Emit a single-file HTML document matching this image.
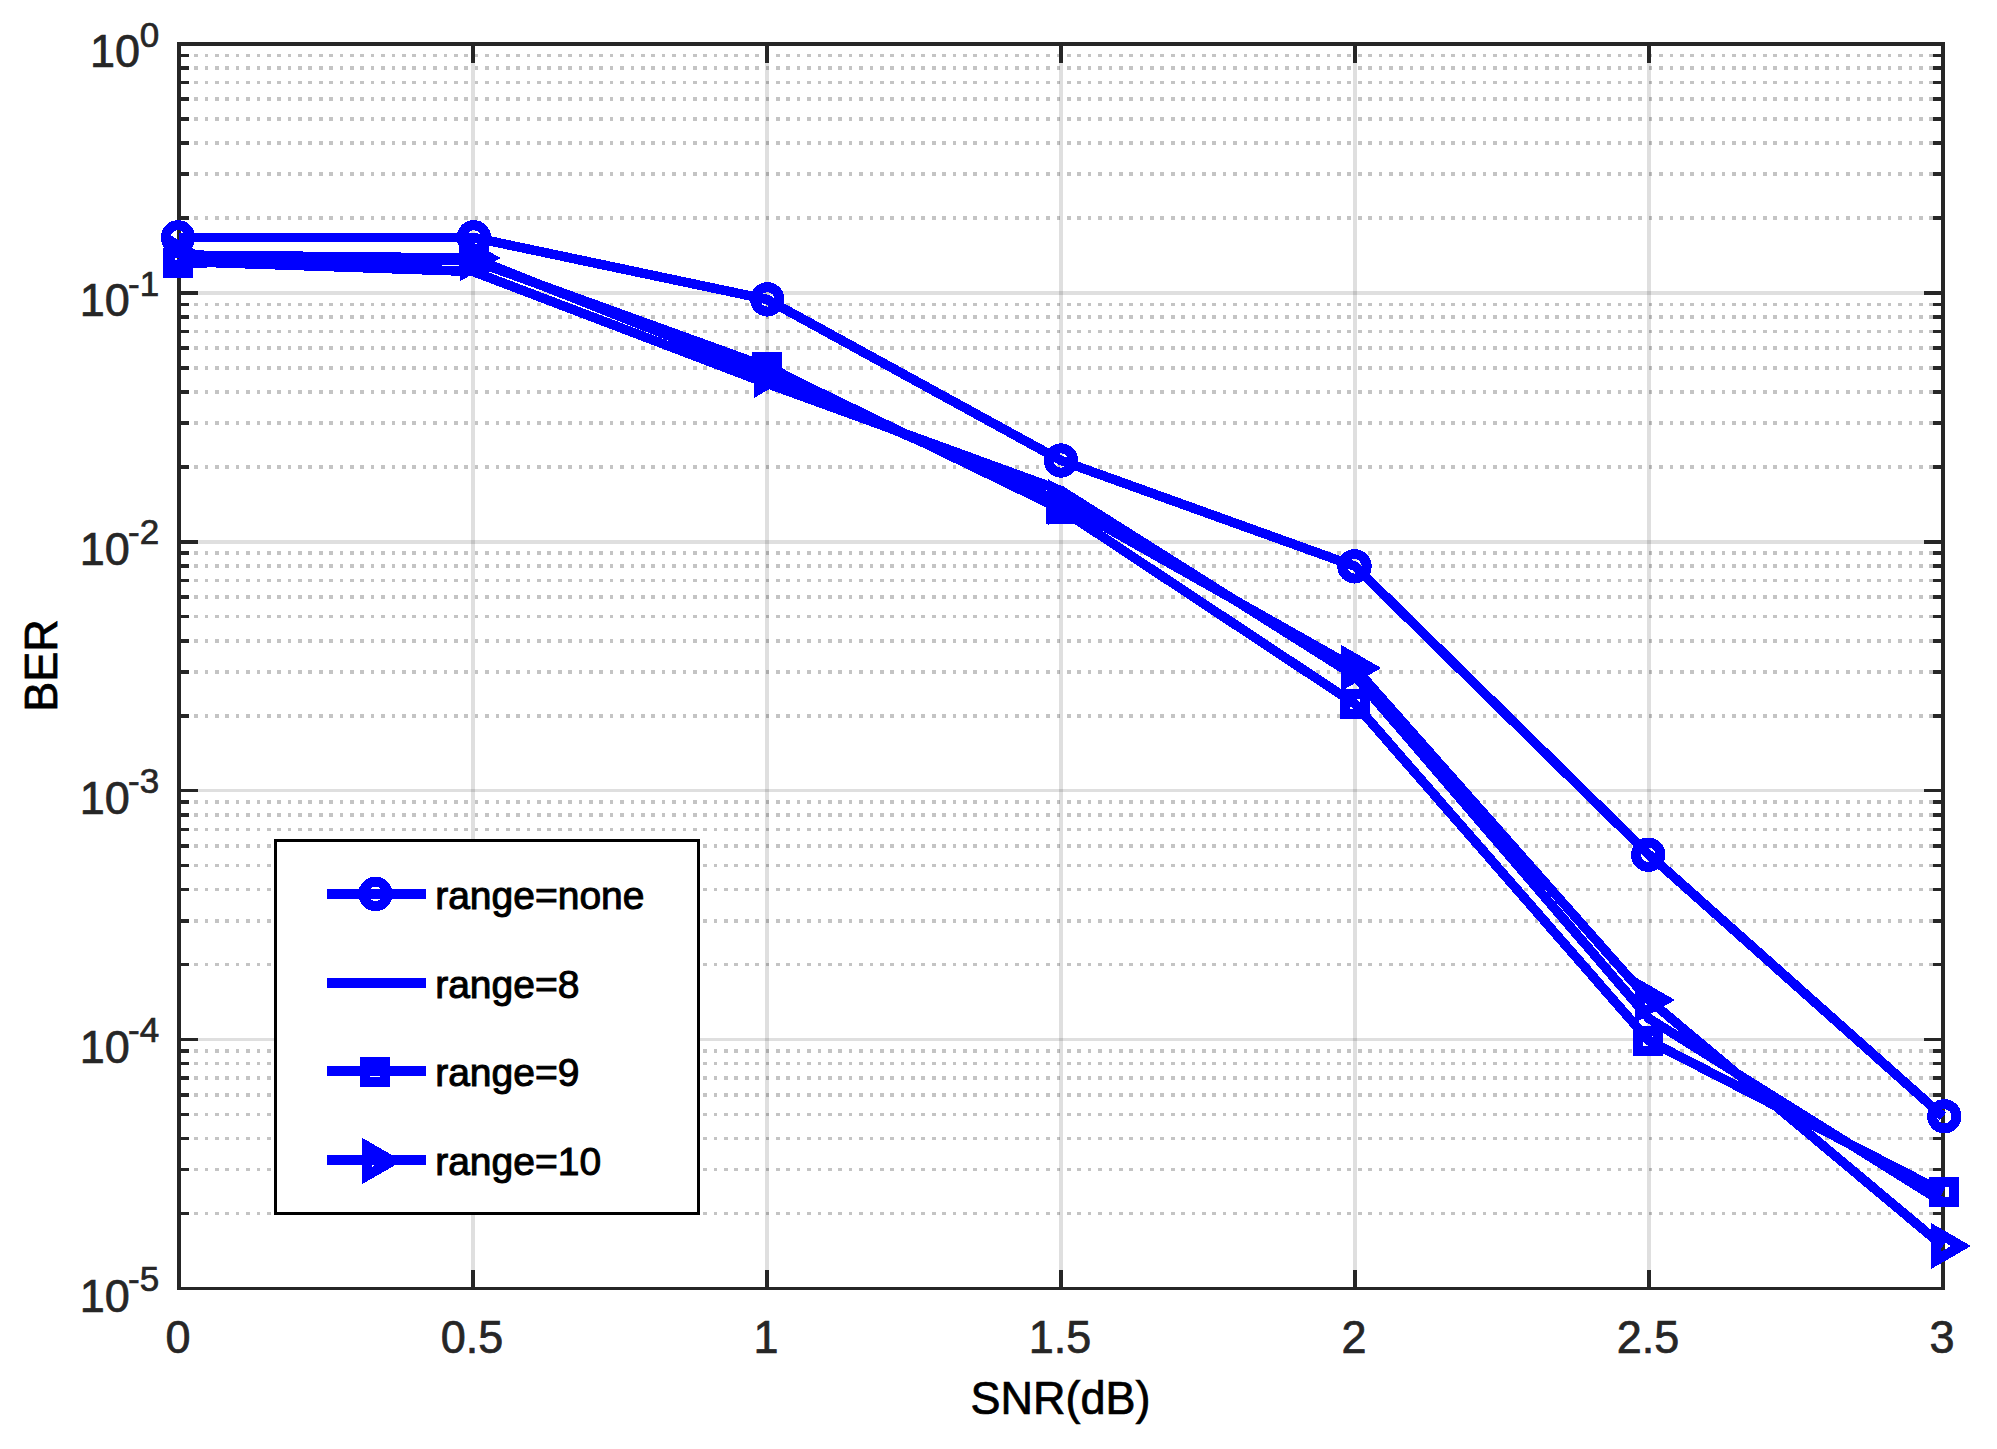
<!DOCTYPE html>
<html lang="en"><head><meta charset="utf-8"><title>BER vs SNR</title>
<style>html,body{margin:0;padding:0;background:#fff}body{width:1997px;height:1449px;overflow:hidden}svg{display:block;position:absolute;left:0;top:0}text{font-family:"Liberation Sans",sans-serif}.t{fill:#262626}.k{fill:#000}</style>
</head><body>
<svg width="1997" height="1449" viewBox="0 0 1997 1449">
<rect x="0" y="0" width="1997" height="1449" fill="#fff"/>
<g shape-rendering="crispEdges" fill="none">
<g stroke="#c4c4c4" stroke-width="3.50" stroke-dasharray="3.65 6.74" stroke-dashoffset="5.58">
<line x1="179.0" y1="218.0" x2="1943.0" y2="218.0"/>
<line x1="179.0" y1="174.1" x2="1943.0" y2="174.1"/>
<line x1="179.0" y1="143.0" x2="1943.0" y2="143.0"/>
<line x1="179.0" y1="118.9" x2="1943.0" y2="118.9"/>
<line x1="179.0" y1="99.2" x2="1943.0" y2="99.2"/>
<line x1="179.0" y1="82.6" x2="1943.0" y2="82.6"/>
<line x1="179.0" y1="68.1" x2="1943.0" y2="68.1"/>
<line x1="179.0" y1="55.4" x2="1943.0" y2="55.4"/>
<line x1="179.0" y1="466.9" x2="1943.0" y2="466.9"/>
<line x1="179.0" y1="423.0" x2="1943.0" y2="423.0"/>
<line x1="179.0" y1="391.9" x2="1943.0" y2="391.9"/>
<line x1="179.0" y1="367.8" x2="1943.0" y2="367.8"/>
<line x1="179.0" y1="348.1" x2="1943.0" y2="348.1"/>
<line x1="179.0" y1="331.5" x2="1943.0" y2="331.5"/>
<line x1="179.0" y1="317.0" x2="1943.0" y2="317.0"/>
<line x1="179.0" y1="304.3" x2="1943.0" y2="304.3"/>
<line x1="179.0" y1="715.8" x2="1943.0" y2="715.8"/>
<line x1="179.0" y1="671.9" x2="1943.0" y2="671.9"/>
<line x1="179.0" y1="640.8" x2="1943.0" y2="640.8"/>
<line x1="179.0" y1="616.7" x2="1943.0" y2="616.7"/>
<line x1="179.0" y1="597.0" x2="1943.0" y2="597.0"/>
<line x1="179.0" y1="580.4" x2="1943.0" y2="580.4"/>
<line x1="179.0" y1="565.9" x2="1943.0" y2="565.9"/>
<line x1="179.0" y1="553.2" x2="1943.0" y2="553.2"/>
<line x1="179.0" y1="964.7" x2="1943.0" y2="964.7"/>
<line x1="179.0" y1="920.8" x2="1943.0" y2="920.8"/>
<line x1="179.0" y1="889.7" x2="1943.0" y2="889.7"/>
<line x1="179.0" y1="865.6" x2="1943.0" y2="865.6"/>
<line x1="179.0" y1="845.9" x2="1943.0" y2="845.9"/>
<line x1="179.0" y1="829.3" x2="1943.0" y2="829.3"/>
<line x1="179.0" y1="814.8" x2="1943.0" y2="814.8"/>
<line x1="179.0" y1="802.1" x2="1943.0" y2="802.1"/>
<line x1="179.0" y1="1213.6" x2="1943.0" y2="1213.6"/>
<line x1="179.0" y1="1169.7" x2="1943.0" y2="1169.7"/>
<line x1="179.0" y1="1138.6" x2="1943.0" y2="1138.6"/>
<line x1="179.0" y1="1114.5" x2="1943.0" y2="1114.5"/>
<line x1="179.0" y1="1094.8" x2="1943.0" y2="1094.8"/>
<line x1="179.0" y1="1078.2" x2="1943.0" y2="1078.2"/>
<line x1="179.0" y1="1063.7" x2="1943.0" y2="1063.7"/>
<line x1="179.0" y1="1051.0" x2="1943.0" y2="1051.0"/>
</g>
<g stroke="#262626" stroke-opacity="0.15" stroke-width="3.5">
<line x1="473.0" y1="44.0" x2="473.0" y2="1288.5"/>
<line x1="767.0" y1="44.0" x2="767.0" y2="1288.5"/>
<line x1="1061.0" y1="44.0" x2="1061.0" y2="1288.5"/>
<line x1="1355.0" y1="44.0" x2="1355.0" y2="1288.5"/>
<line x1="1649.0" y1="44.0" x2="1649.0" y2="1288.5"/>
<line x1="179.0" y1="292.9" x2="1943.0" y2="292.9"/>
<line x1="179.0" y1="541.8" x2="1943.0" y2="541.8"/>
<line x1="179.0" y1="790.7" x2="1943.0" y2="790.7"/>
<line x1="179.0" y1="1039.6" x2="1943.0" y2="1039.6"/>
</g>
<g stroke="#262626" stroke-width="3.5">
<line x1="179.0" y1="218.0" x2="189.0" y2="218.0"/>
<line x1="1943.0" y1="218.0" x2="1933.0" y2="218.0"/>
<line x1="179.0" y1="174.1" x2="189.0" y2="174.1"/>
<line x1="1943.0" y1="174.1" x2="1933.0" y2="174.1"/>
<line x1="179.0" y1="143.0" x2="189.0" y2="143.0"/>
<line x1="1943.0" y1="143.0" x2="1933.0" y2="143.0"/>
<line x1="179.0" y1="118.9" x2="189.0" y2="118.9"/>
<line x1="1943.0" y1="118.9" x2="1933.0" y2="118.9"/>
<line x1="179.0" y1="99.2" x2="189.0" y2="99.2"/>
<line x1="1943.0" y1="99.2" x2="1933.0" y2="99.2"/>
<line x1="179.0" y1="82.6" x2="189.0" y2="82.6"/>
<line x1="1943.0" y1="82.6" x2="1933.0" y2="82.6"/>
<line x1="179.0" y1="68.1" x2="189.0" y2="68.1"/>
<line x1="1943.0" y1="68.1" x2="1933.0" y2="68.1"/>
<line x1="179.0" y1="55.4" x2="189.0" y2="55.4"/>
<line x1="1943.0" y1="55.4" x2="1933.0" y2="55.4"/>
<line x1="179.0" y1="466.9" x2="189.0" y2="466.9"/>
<line x1="1943.0" y1="466.9" x2="1933.0" y2="466.9"/>
<line x1="179.0" y1="423.0" x2="189.0" y2="423.0"/>
<line x1="1943.0" y1="423.0" x2="1933.0" y2="423.0"/>
<line x1="179.0" y1="391.9" x2="189.0" y2="391.9"/>
<line x1="1943.0" y1="391.9" x2="1933.0" y2="391.9"/>
<line x1="179.0" y1="367.8" x2="189.0" y2="367.8"/>
<line x1="1943.0" y1="367.8" x2="1933.0" y2="367.8"/>
<line x1="179.0" y1="348.1" x2="189.0" y2="348.1"/>
<line x1="1943.0" y1="348.1" x2="1933.0" y2="348.1"/>
<line x1="179.0" y1="331.5" x2="189.0" y2="331.5"/>
<line x1="1943.0" y1="331.5" x2="1933.0" y2="331.5"/>
<line x1="179.0" y1="317.0" x2="189.0" y2="317.0"/>
<line x1="1943.0" y1="317.0" x2="1933.0" y2="317.0"/>
<line x1="179.0" y1="304.3" x2="189.0" y2="304.3"/>
<line x1="1943.0" y1="304.3" x2="1933.0" y2="304.3"/>
<line x1="179.0" y1="715.8" x2="189.0" y2="715.8"/>
<line x1="1943.0" y1="715.8" x2="1933.0" y2="715.8"/>
<line x1="179.0" y1="671.9" x2="189.0" y2="671.9"/>
<line x1="1943.0" y1="671.9" x2="1933.0" y2="671.9"/>
<line x1="179.0" y1="640.8" x2="189.0" y2="640.8"/>
<line x1="1943.0" y1="640.8" x2="1933.0" y2="640.8"/>
<line x1="179.0" y1="616.7" x2="189.0" y2="616.7"/>
<line x1="1943.0" y1="616.7" x2="1933.0" y2="616.7"/>
<line x1="179.0" y1="597.0" x2="189.0" y2="597.0"/>
<line x1="1943.0" y1="597.0" x2="1933.0" y2="597.0"/>
<line x1="179.0" y1="580.4" x2="189.0" y2="580.4"/>
<line x1="1943.0" y1="580.4" x2="1933.0" y2="580.4"/>
<line x1="179.0" y1="565.9" x2="189.0" y2="565.9"/>
<line x1="1943.0" y1="565.9" x2="1933.0" y2="565.9"/>
<line x1="179.0" y1="553.2" x2="189.0" y2="553.2"/>
<line x1="1943.0" y1="553.2" x2="1933.0" y2="553.2"/>
<line x1="179.0" y1="964.7" x2="189.0" y2="964.7"/>
<line x1="1943.0" y1="964.7" x2="1933.0" y2="964.7"/>
<line x1="179.0" y1="920.8" x2="189.0" y2="920.8"/>
<line x1="1943.0" y1="920.8" x2="1933.0" y2="920.8"/>
<line x1="179.0" y1="889.7" x2="189.0" y2="889.7"/>
<line x1="1943.0" y1="889.7" x2="1933.0" y2="889.7"/>
<line x1="179.0" y1="865.6" x2="189.0" y2="865.6"/>
<line x1="1943.0" y1="865.6" x2="1933.0" y2="865.6"/>
<line x1="179.0" y1="845.9" x2="189.0" y2="845.9"/>
<line x1="1943.0" y1="845.9" x2="1933.0" y2="845.9"/>
<line x1="179.0" y1="829.3" x2="189.0" y2="829.3"/>
<line x1="1943.0" y1="829.3" x2="1933.0" y2="829.3"/>
<line x1="179.0" y1="814.8" x2="189.0" y2="814.8"/>
<line x1="1943.0" y1="814.8" x2="1933.0" y2="814.8"/>
<line x1="179.0" y1="802.1" x2="189.0" y2="802.1"/>
<line x1="1943.0" y1="802.1" x2="1933.0" y2="802.1"/>
<line x1="179.0" y1="1213.6" x2="189.0" y2="1213.6"/>
<line x1="1943.0" y1="1213.6" x2="1933.0" y2="1213.6"/>
<line x1="179.0" y1="1169.7" x2="189.0" y2="1169.7"/>
<line x1="1943.0" y1="1169.7" x2="1933.0" y2="1169.7"/>
<line x1="179.0" y1="1138.6" x2="189.0" y2="1138.6"/>
<line x1="1943.0" y1="1138.6" x2="1933.0" y2="1138.6"/>
<line x1="179.0" y1="1114.5" x2="189.0" y2="1114.5"/>
<line x1="1943.0" y1="1114.5" x2="1933.0" y2="1114.5"/>
<line x1="179.0" y1="1094.8" x2="189.0" y2="1094.8"/>
<line x1="1943.0" y1="1094.8" x2="1933.0" y2="1094.8"/>
<line x1="179.0" y1="1078.2" x2="189.0" y2="1078.2"/>
<line x1="1943.0" y1="1078.2" x2="1933.0" y2="1078.2"/>
<line x1="179.0" y1="1063.7" x2="189.0" y2="1063.7"/>
<line x1="1943.0" y1="1063.7" x2="1933.0" y2="1063.7"/>
<line x1="179.0" y1="1051.0" x2="189.0" y2="1051.0"/>
<line x1="1943.0" y1="1051.0" x2="1933.0" y2="1051.0"/>
<line x1="179.0" y1="292.9" x2="198.0" y2="292.9"/>
<line x1="1943.0" y1="292.9" x2="1924.0" y2="292.9"/>
<line x1="179.0" y1="541.8" x2="198.0" y2="541.8"/>
<line x1="1943.0" y1="541.8" x2="1924.0" y2="541.8"/>
<line x1="179.0" y1="790.7" x2="198.0" y2="790.7"/>
<line x1="1943.0" y1="790.7" x2="1924.0" y2="790.7"/>
<line x1="179.0" y1="1039.6" x2="198.0" y2="1039.6"/>
<line x1="1943.0" y1="1039.6" x2="1924.0" y2="1039.6"/>
<line x1="473.0" y1="1288.5" x2="473.0" y2="1269.5"/>
<line x1="473.0" y1="44.0" x2="473.0" y2="63.0"/>
<line x1="767.0" y1="1288.5" x2="767.0" y2="1269.5"/>
<line x1="767.0" y1="44.0" x2="767.0" y2="63.0"/>
<line x1="1061.0" y1="1288.5" x2="1061.0" y2="1269.5"/>
<line x1="1061.0" y1="44.0" x2="1061.0" y2="63.0"/>
<line x1="1355.0" y1="1288.5" x2="1355.0" y2="1269.5"/>
<line x1="1355.0" y1="44.0" x2="1355.0" y2="63.0"/>
<line x1="1649.0" y1="1288.5" x2="1649.0" y2="1269.5"/>
<line x1="1649.0" y1="44.0" x2="1649.0" y2="63.0"/>
</g>
<rect x="179.0" y="44.0" width="1764.0" height="1244.5" stroke="#262626" stroke-width="3.5"/>
</g>
<g shape-rendering="crispEdges" fill="none" stroke="#0000ff" stroke-linejoin="miter" stroke-miterlimit="10">
<g stroke-width="9.5">
<polyline points="179.0,237.4 473.0,237.4 767.0,299.4 1061.0,460.5 1355.0,566.3 1649.0,854.7 1943.0,1116.3"/>
<polyline points="179.0,261.5 473.0,271.5 767.0,383.5 1061.0,490.5 1355.0,676.0 1649.0,1018.5 1943.0,1202.4"/>
<polyline points="179.0,263.0 473.0,260.5 767.0,366.9 1061.0,509.3 1355.0,703.9 1649.0,1040.7 1943.0,1192.0"/>
<polyline points="179.0,255.0 473.0,258.0 767.0,374.9 1061.0,502.0 1355.0,668.0 1649.0,1000.0 1943.0,1246.0"/>
</g>
<g stroke-width="10">
<circle cx="178.0" cy="237.4" r="12.2"/>
<circle cx="473.8" cy="237.4" r="12.2"/>
<circle cx="767.3" cy="299.4" r="12.2"/>
<circle cx="1061.0" cy="460.5" r="12.2"/>
<circle cx="1354.5" cy="566.3" r="12.2"/>
<circle cx="1648.2" cy="854.7" r="12.2"/>
<circle cx="1944.3" cy="1116.3" r="12.2"/>
<rect x="168.0" y="253.0" width="20" height="20"/>
<rect x="463.8" y="250.5" width="20" height="20"/>
<rect x="757.3" y="356.9" width="20" height="20"/>
<rect x="1051.0" y="499.3" width="20" height="20"/>
<rect x="1344.5" y="693.9" width="20" height="20"/>
<rect x="1638.2" y="1030.7" width="20" height="20"/>
<rect x="1934.3" y="1182.0" width="20" height="20"/>
<path d="M169.66 240.55L194.68 255.00L169.66 269.45Z"/>
<path d="M465.46 243.55L490.48 258.00L465.46 272.45Z"/>
<path d="M758.96 360.45L783.98 374.90L758.96 389.35Z"/>
<path d="M1052.66 487.55L1077.68 502.00L1052.66 516.45Z"/>
<path d="M1346.16 653.55L1371.18 668.00L1346.16 682.45Z"/>
<path d="M1639.86 985.55L1664.88 1000.00L1639.86 1014.45Z"/>
<path d="M1935.96 1231.55L1960.98 1246.00L1935.96 1260.45Z"/>
</g>
</g>
<rect x="275.5" y="840.5" width="422.8" height="373" fill="#fff" stroke="#000" stroke-width="3" shape-rendering="crispEdges"/>
<g shape-rendering="crispEdges" fill="none" stroke="#0000ff" stroke-linejoin="miter" stroke-miterlimit="10">
<g stroke-width="10">
<line x1="327" y1="893.9" x2="426" y2="893.9"/>
<line x1="327" y1="982.6" x2="426" y2="982.6"/>
<line x1="327" y1="1071.3" x2="426" y2="1071.3"/>
<line x1="327" y1="1160.0" x2="426" y2="1160.0"/>
</g>
<g stroke-width="10">
<circle cx="375.5" cy="893.9" r="12.2"/>
<rect x="365.2" y="1062.3" width="20" height="20"/>
<path d="M367.26 1146.55L392.28 1161.00L367.26 1175.45Z"/>
</g></g>
<g class="k" font-size="39" stroke="#000" stroke-width="1">
<text x="435.2" y="909.0">range=none</text>
<text x="435.2" y="997.7">range=8</text>
<text x="435.2" y="1086.4">range=9</text>
<text x="435.2" y="1175.1">range=10</text>
</g>
<g class="t" font-size="45" text-anchor="middle" stroke="#262626" stroke-width="0.7">
<text transform="translate(178.1 1352.5) scale(1 1.03)">0</text>
<text transform="translate(472.1 1352.5) scale(1 1.03)">0.5</text>
<text transform="translate(766.1 1352.5) scale(1 1.03)">1</text>
<text transform="translate(1060.1 1352.5) scale(1 1.03)">1.5</text>
<text transform="translate(1354.1 1352.5) scale(1 1.03)">2</text>
<text transform="translate(1648.1 1352.5) scale(1 1.03)">2.5</text>
<text transform="translate(1942.1 1352.5) scale(1 1.03)">3</text>
</g>
<g class="t" text-anchor="end" stroke="#262626" stroke-width="0.7">
<text font-size="45" transform="translate(140.1 67.2) scale(1 1.03)">10</text><text font-size="35" x="159.2" y="46.6">0</text>
<text font-size="45" transform="translate(129.8 316.1) scale(1 1.03)">10</text><text font-size="35" x="159.2" y="295.5">-1</text>
<text font-size="45" transform="translate(129.8 565.0) scale(1 1.03)">10</text><text font-size="35" x="159.2" y="544.4">-2</text>
<text font-size="45" transform="translate(129.8 813.9) scale(1 1.03)">10</text><text font-size="35" x="159.2" y="793.3">-3</text>
<text font-size="45" transform="translate(129.8 1062.8) scale(1 1.03)">10</text><text font-size="35" x="159.2" y="1042.2">-4</text>
<text font-size="45" transform="translate(129.8 1311.7) scale(1 1.03)">10</text><text font-size="35" x="159.2" y="1291.1">-5</text>
</g>
<g class="k" font-size="45" text-anchor="middle" stroke="#000" stroke-width="0.7">
<text transform="translate(1060.5 1413.8) scale(1 1.03)">SNR(dB)</text>
<text transform="translate(56.9 665.5) rotate(-90) scale(1 1.03)">BER</text>
</g>
</svg></body></html>
